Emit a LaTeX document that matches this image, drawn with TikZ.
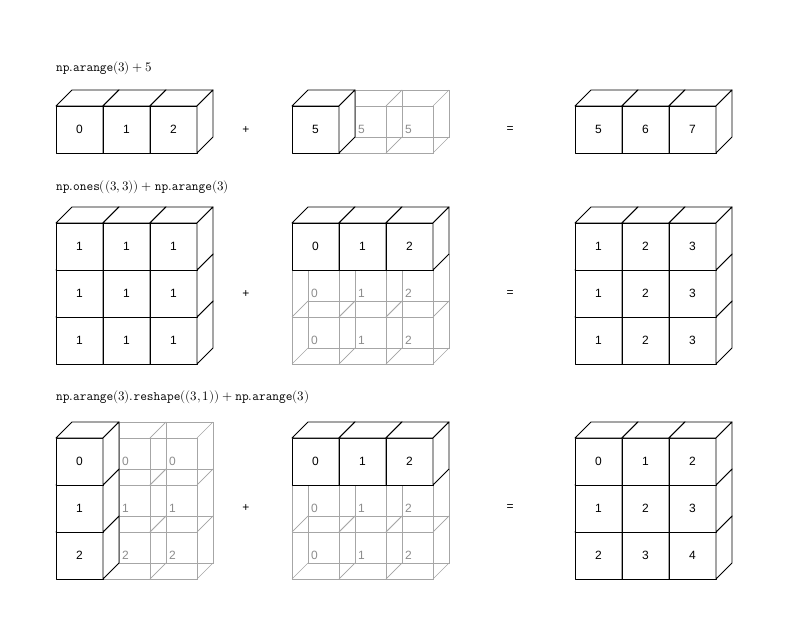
\documentclass[tikz,border=0pt]{standalone}
\usepackage{fontspec}
\setmainfont{Liberation Sans}
\usepackage{unicode-math}
\begin{document}
\begin{tikzpicture}[x=1pt,y=-1pt,
  blk/.style={draw=black,line width=0.9pt,fill=white,line join=round},
  gry/.style={draw=black!35,line width=0.5pt},
  num/.style={font=\fontsize{12}{14}\selectfont},
  gnum/.style={font=\fontsize{12}{14}\selectfont,text=black!45,anchor=west,inner sep=0pt},
  ttl/.style={anchor=west,inner sep=0pt,font=\fontsize{13}{15}\selectfont}]
\useasboundingbox (0,0) rectangle (801,631);
\def\s{47}\def\d{16}
\newcommand\bcube[3]{%
  \path[blk] (#1,#2) rectangle ++(\s,\s);
  \path[blk] (#1,#2) -- ++(\d,-\d) -- ++(\s,0) -- ++(-\d,\d) -- cycle;
  \path[blk] (#1+\s,#2) -- ++(\d,-\d) -- ++(0,\s) -- ++(-\d,\d) -- cycle;
  \node[num] at (#1+\s/2,#2+\s/2) {#3};}
\newcommand\gcube[3]{%
  \draw[gry] (#1,#2) rectangle ++(\s,\s);
  \draw[gry] (#1+\d,#2-\d) rectangle ++(\s,\s);
  \draw[gry] (#1,#2) -- ++(\d,-\d) (#1+\s,#2) -- ++(\d,-\d)
             (#1,#2+\s) -- ++(\d,-\d) (#1+\s,#2+\s) -- ++(\d,-\d);
  \node[gnum] at (#1+\d+3,#2+\s/2) {#3};}
% titles
\node[ttl] (t1) at (56,68) {$\mathtt{np.arange}(3)+5$};
\node[ttl] (t2) at (56,187) {$\mathtt{np.ones}((3,3))+\mathtt{np.arange}(3)$};
\node[ttl] (t3) at (56,397) {$\mathtt{np.arange}(3).\mathtt{reshape}((3,1))+\mathtt{np.arange}(3)$};
% row 1
\bcube{56}{106}{0}\bcube{103}{106}{1}\bcube{150}{106}{2}
\gcube{339}{106}{5}\gcube{386}{106}{5}
\bcube{292}{106}{5}
\bcube{575}{106}{5}\bcube{622}{106}{6}\bcube{669}{106}{7}
\node[num] (p1) at (246,130) {+};
\node[num] (e1) at (510,130) {=};
% row 2
\foreach \y in {317,270,223}{
  \bcube{56}{\y}{1}\bcube{103}{\y}{1}\bcube{150}{\y}{1}}
\foreach \y in {317,270}{
  \gcube{292}{\y}{0}\gcube{339}{\y}{1}\gcube{386}{\y}{2}}
\bcube{292}{223}{0}\bcube{339}{223}{1}\bcube{386}{223}{2}
\foreach \y in {317,270,223}{
  \bcube{575}{\y}{1}\bcube{622}{\y}{2}\bcube{669}{\y}{3}}
\node[num] (p2) at (246,294) {+};
\node[num] (e2) at (510,294) {=};
% row 3
\foreach \y/\v in {532/2,485/1,438/0}{
  \gcube{103}{\y}{\v}\gcube{150}{\y}{\v}}
\bcube{56}{532}{2}\bcube{56}{485}{1}\bcube{56}{438}{0}
\foreach \y in {532,485}{
  \gcube{292}{\y}{0}\gcube{339}{\y}{1}\gcube{386}{\y}{2}}
\bcube{292}{438}{0}\bcube{339}{438}{1}\bcube{386}{438}{2}
\bcube{575}{532}{2}\bcube{622}{532}{3}\bcube{669}{532}{4}
\bcube{575}{485}{1}\bcube{622}{485}{2}\bcube{669}{485}{3}
\bcube{575}{438}{0}\bcube{622}{438}{1}\bcube{669}{438}{2}
\node[num] (p3) at (246,508) {+};
\node[num] (e3) at (510,508) {=};
\end{tikzpicture}
\end{document}
